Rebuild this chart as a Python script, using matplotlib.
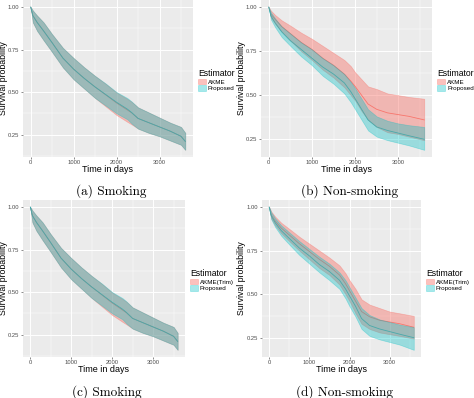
import matplotlib
matplotlib.use("Agg")
import matplotlib.pyplot as plt
from matplotlib.patches import Patch
from matplotlib.ticker import MultipleLocator, FormatStrFormatter

# --- Data ---
t_smk = [0, 50, 150, 300, 500, 750, 1000, 1250, 1500, 1750, 2000, 2250, 2350, 2500, 2750, 3000, 3250, 3500, 3600]
smk_prop_mid = [1.0, 0.95, 0.91, 0.86, 0.79, 0.70, 0.635, 0.58, 0.53, 0.485, 0.44, 0.40, 0.38, 0.345, 0.32, 0.295, 0.27, 0.24, 0.21]
smk_prop_hi = [1.0, 0.98, 0.95, 0.91, 0.84, 0.76, 0.70, 0.645, 0.595, 0.55, 0.50, 0.465, 0.445, 0.41, 0.38, 0.35, 0.32, 0.295, 0.26]
smk_prop_lo = [1.0, 0.91, 0.86, 0.805, 0.735, 0.645, 0.575, 0.52, 0.465, 0.42, 0.375, 0.34, 0.315, 0.285, 0.26, 0.24, 0.215, 0.19, 0.16]
smk_akme_mid = [1.0, 0.95, 0.91, 0.86, 0.79, 0.70, 0.635, 0.58, 0.53, 0.483, 0.436, 0.395, 0.378, 0.345, 0.32, 0.295, 0.27, 0.24, 0.21]
smk_akme_hi = [1.0, 0.98, 0.95, 0.91, 0.84, 0.76, 0.70, 0.645, 0.595, 0.548, 0.497, 0.46, 0.443, 0.41, 0.38, 0.35, 0.32, 0.295, 0.26]
smk_akme_lo = [1.0, 0.91, 0.86, 0.805, 0.735, 0.645, 0.575, 0.52, 0.465, 0.415, 0.365, 0.325, 0.31, 0.285, 0.26, 0.24, 0.215, 0.19, 0.16]

t_non = [0, 50, 150, 300, 500, 750, 1000, 1250, 1500, 1750, 1900, 2000, 2150, 2300, 2500, 2750, 3000, 3250, 3600]
non_akme_mid = [1.0, 0.96, 0.93, 0.89, 0.85, 0.80, 0.76, 0.71, 0.67, 0.62, 0.58, 0.55, 0.50, 0.45, 0.42, 0.40, 0.39, 0.38, 0.36]
non_akme_hi = [1.0, 0.98, 0.955, 0.925, 0.895, 0.855, 0.82, 0.78, 0.74, 0.70, 0.665, 0.63, 0.59, 0.55, 0.535, 0.51, 0.50, 0.49, 0.48]
non_akme_lo = [1.0, 0.94, 0.905, 0.86, 0.81, 0.75, 0.70, 0.645, 0.60, 0.545, 0.50, 0.47, 0.41, 0.36, 0.32, 0.29, 0.28, 0.265, 0.245]
non_prop_mid = [1.0, 0.95, 0.91, 0.86, 0.81, 0.76, 0.71, 0.66, 0.62, 0.57, 0.52, 0.48, 0.42, 0.36, 0.32, 0.30, 0.285, 0.27, 0.25]
non_prop_hi = [1.0, 0.97, 0.935, 0.89, 0.85, 0.80, 0.76, 0.71, 0.67, 0.62, 0.575, 0.54, 0.48, 0.42, 0.38, 0.355, 0.34, 0.33, 0.32]
non_prop_lo = [1.0, 0.93, 0.885, 0.83, 0.78, 0.72, 0.67, 0.61, 0.565, 0.51, 0.46, 0.42, 0.36, 0.30, 0.265, 0.245, 0.23, 0.215, 0.19]

non_trim_mid = [1.0, 0.955, 0.92, 0.88, 0.84, 0.79, 0.745, 0.70, 0.66, 0.61, 0.56, 0.52, 0.46, 0.40, 0.37, 0.35, 0.34, 0.33, 0.31]
non_trim_hi = [1.0, 0.975, 0.945, 0.91, 0.875, 0.83, 0.79, 0.75, 0.71, 0.665, 0.62, 0.58, 0.53, 0.47, 0.44, 0.42, 0.40, 0.39, 0.375]
non_trim_lo = [1.0, 0.935, 0.895, 0.85, 0.805, 0.75, 0.70, 0.65, 0.61, 0.555, 0.50, 0.46, 0.39, 0.33, 0.30, 0.28, 0.27, 0.26, 0.245]
non_prop2_mid = [1.0, 0.95, 0.91, 0.865, 0.82, 0.765, 0.72, 0.67, 0.63, 0.58, 0.53, 0.49, 0.43, 0.36, 0.32, 0.30, 0.285, 0.27, 0.25]
non_prop2_hi = [1.0, 0.97, 0.935, 0.895, 0.855, 0.805, 0.76, 0.715, 0.675, 0.625, 0.58, 0.54, 0.48, 0.42, 0.38, 0.355, 0.34, 0.325, 0.31]
non_prop2_lo = [1.0, 0.93, 0.885, 0.835, 0.785, 0.725, 0.675, 0.625, 0.58, 0.53, 0.475, 0.43, 0.37, 0.30, 0.26, 0.24, 0.225, 0.21, 0.18]

captions = ["(a) Smoking", "(b) Non-smoking", "(c) Smoking", "(d) Non-smoking"]
RED = "#F8766D"
TEAL = "#00BFC4"
alphas = {RED: 0.45, TEAL: 0.35}

W, H = 474, 398
fig = plt.figure(figsize=(W / 100, H / 100), dpi=100)
fig.patch.set_facecolor("white")

# axes boxes in pixels: left, top, right, bottom
boxes = [(23, 0, 193, 157), (261, 0, 432, 157), (23, 200, 185, 357), (262, 200, 421, 357)]
label_x = [8, 246, 8, 246]

panels = [
    (t_smk, [("AKME", RED, smk_akme_mid, smk_akme_lo, smk_akme_hi),
             ("Proposed", TEAL, smk_prop_mid, smk_prop_lo, smk_prop_hi)]),
    (t_non, [("AKME", RED, non_akme_mid, non_akme_lo, non_akme_hi),
             ("Proposed", TEAL, non_prop_mid, non_prop_lo, non_prop_hi)]),
    (t_smk, [("AKME(Trim)", RED, smk_akme_mid, smk_akme_lo, smk_akme_hi),
             ("Proposed", TEAL, smk_prop_mid, smk_prop_lo, smk_prop_hi)]),
    (t_non, [("AKME(Trim)", RED, non_trim_mid, non_trim_lo, non_trim_hi),
             ("Proposed", TEAL, non_prop2_mid, non_prop2_lo, non_prop2_hi)]),
]

font = "Liberation Sans"

for (l, tp, r, b), lx, (t, series), cap in zip(boxes, label_x, panels, captions):
    aw, ah = r - l, b - tp
    ax = fig.add_axes([l / W, 1 - b / H, aw / W, ah / H])
    ax.set_facecolor("#EBEBEB")
    for s in ax.spines.values():
        s.set_visible(False)

    handles = []
    for name, col, mid, lo, hi in series:
        ax.plot(t, mid, color=col, lw=0.6, zorder=2)
    for name, col, mid, lo, hi in series:
        a = alphas[col]
        ax.fill_between(t, lo, hi, facecolor=col, alpha=a, edgecolor=col, lw=0.5, zorder=3)
        handles.append(Patch(facecolor=col, alpha=a, edgecolor=col, lw=0.5, label=name))

    lows = min(min(s[3]) for s in series)
    span = 1.0 - lows
    ax.set_ylim(lows - 0.05 * span, 1.0 + 0.05 * span)
    ax.set_xlim(-0.05 * 3600, 3600 * 1.05)

    ax.xaxis.set_major_locator(MultipleLocator(1000))
    ax.xaxis.set_minor_locator(MultipleLocator(500))
    ax.yaxis.set_major_locator(MultipleLocator(0.25))
    ax.yaxis.set_minor_locator(MultipleLocator(0.125))
    ax.grid(which="major", color="white", lw=0.7)
    ax.grid(which="minor", color="white", lw=0.35)
    ax.set_axisbelow(True)
    ax.yaxis.set_major_formatter(FormatStrFormatter("%.2f"))
    ax.tick_params(which="major", length=1.5, width=0.4, color="#333333",
                   labelsize=4.2, labelcolor="#4D4D4D", pad=1)
    ax.tick_params(which="minor", length=0)
    for lab in ax.get_xticklabels() + ax.get_yticklabels():
        lab.set_fontfamily(font)

    ax.set_xlabel("Time in days", fontsize=6.5, family=font)
    ax.set_ylabel("Survival probability", fontsize=6.3, family=font)
    ax.xaxis.set_label_coords(0.5, -8 / ah)
    ax.yaxis.set_label_coords((lx - l) / aw, 0.5)

    ax.legend(handles=handles, title="Estimator", loc="center left",
              bbox_to_anchor=(1 + 5 / aw, 0.49), frameon=False,
              prop={"family": font, "size": 4.5},
              title_fontproperties={"family": font, "size": 6.2},
              handlelength=1.3, handleheight=1.0, handletextpad=0.3,
              labelspacing=0.1, alignment="left", borderaxespad=0,
              borderpad=0)

    cy = 191 if tp == 0 else 392
    cx = ((l + r) / 2 + 3) / W
    fig.text(cx, 1 - cy / H, cap, ha="center", va="center",
             family="cmr10", fontsize=9.5)

fig.savefig("out.png", dpi=100)
